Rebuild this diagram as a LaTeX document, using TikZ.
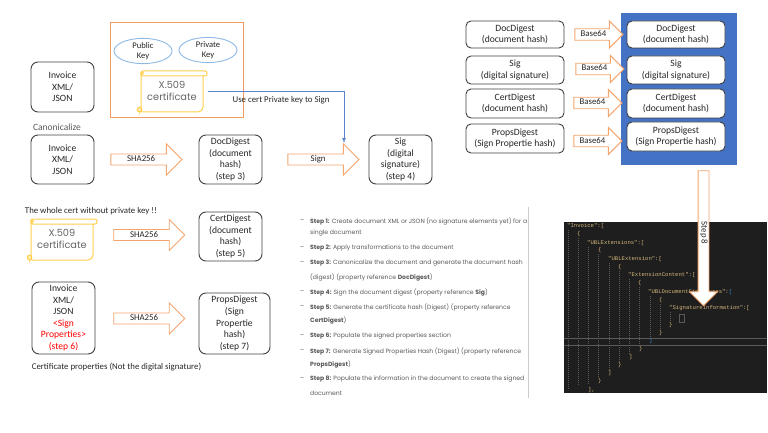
\documentclass[tikz,border=0pt]{standalone}
\usepackage{fontspec}
\setmainfont{Carlito}
\newfontfamily\stepfont{Poppins}
\newfontfamily\codefont{Liberation Mono}
\usetikzlibrary{positioning}
\usetikzlibrary{shapes.arrows}
\usetikzlibrary{shapes.geometric}
\definecolor{arrowline}{HTML}{F4A56E}
\definecolor{frameline}{HTML}{F29A5F}
\definecolor{keyline}{HTML}{8DB9E2}
\definecolor{wireblue}{HTML}{5B84D0}
\definecolor{scrollline}{HTML}{FFCF4A}
\definecolor{panelblue}{HTML}{4472C4}
\definecolor{codeback}{HTML}{1E1E1E}
\definecolor{codetext}{HTML}{D2B57C}
\definecolor{codeblue}{HTML}{3D8BD8}
\definecolor{guide}{HTML}{5A5A5A}

% one scroll, named #1, left edge of the drawing at #2
\newcommand{\certscroll}[2]{
    \draw[shift={(#2)},scrollline,line width=1pt,rounded corners=2pt,fill=white]
        (4,3) -- (4,39) -- (3,41) -- (63,41) -- (66,38) -- (66,5);
    \draw[shift={(#2)},scrollline,line width=1pt,rounded corners=2pt,fill=white]
        (4,0) rectangle (70,5);
    \draw[shift={(#2)},scrollline,line width=1pt,fill=scrollline!40] (2.5,38.5) circle (2.3);
    \draw[shift={(#2)},scrollline,line width=1pt,fill=scrollline!40] (5,2) circle (1.5);
    \node[certtext,shift={(#2)}] (#1) at (35,20) {X.509\\certificate};
}

\begin{document}
\begin{tikzpicture}[x=1pt,y=-1pt,
    box/.style={draw=black!75,line width=0.9pt,rounded corners=7pt,align=center,inner sep=0pt,
        font=\fontsize{9.6}{11.6}\selectfont,text=black!85},
    flatbox/.style={box,minimum width=98pt,rounded corners=5pt,fill=white},
    blockarrow/.style={single arrow,draw=arrowline,line width=0.9pt,fill=white,inner sep=0pt,
        single arrow tip angle=90,single arrow head extend=8pt,shape border uses incircle=false,
        minimum height=71pt,minimum width=31pt,font=\fontsize{8.8}{10}\selectfont,text=black!85,
        text height=6pt,text depth=2pt,execute at end node={\hspace*{5pt}}},
    basearrow/.style={blockarrow,minimum height=48pt,minimum width=27pt,single arrow head extend=6pt},
    keyoval/.style={ellipse,draw=keyline,line width=0.9pt,minimum width=58pt,minimum height=25pt,
        inner sep=0pt,align=center,font=\fontsize{8.6}{10.5}\selectfont,text=black!85},
    certtext/.style={align=center,inner sep=0pt,minimum width=72pt,
        font=\stepfont\fontsize{9.8}{12}\selectfont,text=black!60},
    note/.style={inner sep=0pt,font=\fontsize{8.8}{10}\selectfont,text=black!85},
    steptext/.style={anchor=west,inner sep=0pt,font=\stepfont\fontsize{6.1}{7}\selectfont,text=black!65},
    codeline/.style={anchor=west,inner sep=0pt,font=\codefont\fontsize{5.6}{7}\selectfont,text=codetext}]
    \useasboundingbox (0,0) rectangle (768,433);

    % certificate and keys
    \draw[frameline,line width=1pt] (110,23) rectangle (243,118);
    \node[keyoval] (pubkey) at (143,51) {Public\\Key};
    \node[keyoval] (privkey) at (208,50) {Private\\Key};
    \certscroll{cert1}{137,71}

    % left column
    \node[box,minimum width=63pt,minimum height=50pt] (invoice1) at (62.5,87) {Invoice\\XML/\\JSON};
    \node[note,text=black!65,font=\fontsize{9.5}{10}\selectfont] (canon) at (57,127) {Canonicalize};
    \node[box,minimum width=63pt,minimum height=49pt] (invoice2) at (62.5,159.5) {Invoice\\XML/\\JSON};
    \node[blockarrow,right=16pt of invoice2] (sha1) {SHA256};
    \node[box,minimum width=63pt,minimum height=49pt,right=16pt of sha1] (docdigest) {DocDigest\\(document\\hash)\\(step 3)};
    \node[blockarrow,right=25pt of docdigest] (signarrow) {Sign};
    \node[box,minimum width=63pt,minimum height=49pt,right=9pt of signarrow] (sig) {Sig\\(digital\\signature)\\(step 4)};
    \coordinate (signtop) at (344,143);
    \draw[wireblue,line width=0.7pt,-latex] (cert1.east) -| (signtop);
    \node[note] (usecert) at (281,100) {Use cert Private key to Sign};

    \node[note] (wholecert) at (91,211) {The whole cert without private key !!};
    \certscroll{cert2}{27,219}
    \node[blockarrow] (sha2) at (146.5,235) {SHA256};
    \node[box,minimum width=63pt,minimum height=49pt] (certdigest) at (230.5,236.5) {CertDigest\\(document\\hash)\\(step 5)};

    \node[box,minimum width=63pt,minimum height=72pt] (invoice3) at (63.5,318) {Invoice\\XML/\\JSON\\\textcolor{red}{<Sign}\\\textcolor{red}{Properties>}\\\textcolor{red}{(step 6)}};
    \node[blockarrow] (sha3) at (146.5,318.5) {SHA256};
    \node[box,minimum width=71pt,minimum height=61pt] (propsdigest) at (234.5,323.5) {PropsDigest\\(Sign\\Propertie\\hash)\\(step 7)};
    \node[note] (certprops) at (116.5,367) {Certificate properties (Not the digital signature)};

    % step list
    \foreach [count=\i] \yy/\txt in {
        221/{\textbf{Step 1:} Create document XML or JSON (no signature elements yet) for a},
        233/{single document},
        248/{\textbf{Step 2:} Apply transformations to the document},
        263/{\textbf{Step 3:} Canonicalize the document and generate the document hash},
        277/{(digest) (property reference \textbf{DocDigest})},
        292/{\textbf{Step 4:} Sign the document digest (property reference \textbf{Sig})},
        307/{\textbf{Step 5:} Generate the certificate hash (Digest) (property reference},
        320/{\textbf{CertDigest})},
        336/{\textbf{Step 6:} Populate the signed properties section},
        351/{\textbf{Step 7:} Generate Signed Properties Hash (Digest) (property reference},
        364/{\textbf{PropsDigest})},
        379/{\textbf{Step 8:} Populate the information in the document to create the signed},
        393/{document}}
        \node[steptext] (stepline\i) at (310,\yy) {\txt};
    \foreach [count=\i] \yy in {221,248,263,292,307,336,351,379}
        \node[steptext] (stepdash\i) at (300,\yy) {–};
    \draw[black!20,line width=1pt] (528,207) -- (528,398);

    % right side, digests
    \node[flatbox,minimum height=27pt] (doc1) at (515,34.5) {DocDigest\\(document hash)};
    \node[flatbox,minimum height=28pt] (sig1) at (515,70) {Sig\\(digital signature)};
    \node[flatbox,minimum height=29pt] (cert1b) at (515,103.5) {CertDigest\\(document hash)};
    \node[flatbox,minimum height=29pt] (props1) at (515,138.5) {PropsDigest\\(Sign Propertie hash)};
    \fill[panelblue] (621,13) rectangle (737,165);
    \node[flatbox,minimum height=27pt] (doc2) at (676,34.5) {DocDigest\\(document hash)};
    \node[flatbox,minimum height=28pt] (sig2) at (676,70) {Sig\\(digital signature)};
    \node[flatbox,minimum height=29pt] (cert2b) at (676,103.5) {CertDigest\\(document hash)};
    \node[flatbox,minimum height=29pt] (props2) at (676,136.5) {PropsDigest\\(Sign Propertie hash)};
    \node[basearrow] (base1) at (596,34.5) {Base64};
    \node[basearrow] (base2) at (597,69) {Base64};
    \node[basearrow] (base3) at (595,103) {Base64};
    \node[basearrow] (base4) at (595,141) {Base64};

    % code panel
    \fill[codeback] (564,222) rectangle (767,393);
    \foreach \xx/\ya/\yb in {568/230/390,578/238/385,588/247/385,598/254/378,609/263/370,619/271/362,629/279/354,639/287/346,650/296/338,660/304/330,670/312/322}
        \draw[guide,line width=0.3pt,dash pattern=on 1pt off 1pt] (\xx,\ya) -- (\xx,\yb);
    \draw[guide,line width=0.6pt] (564,338) -- (767,338);
    \draw[guide,line width=0.6pt] (564,345) -- (767,345);
    \foreach [count=\i] \xx/\yy/\txt in {
        567/226/{"Invoice":[},
        577/234/{\{},
        587/243/{"UBLExtensions":[},
        598/250/{\{},
        608/259/{"UBLExtension":[},
        618/267/{\{},
        628/275/{"ExtensionContent":[},
        638/283/{\{},
        648/292/{"UBLDocumentSignatures":\textcolor{codeblue}{[}},
        659/300/{\{},
        669/308/{"SignatureInformation":[},
        669/325/{\}},
        659/333/{\}},
        649/341/{\textcolor{codeblue}{]}},
        639/349/{\}},
        629/357/{]},
        618/365/{\}},
        608/373/{]},
        598/381/{\}},
        588/390/{],}}
        \node[codeline] (code\i) at (\xx,\yy) {\txt};
    \draw[guide,line width=0.4pt] (679,314) rectangle (684,322);

    % step 8 arrow over the code
    \node[blockarrow,rotate=-90,minimum height=135pt,minimum width=28pt,single arrow head extend=7pt] (step8) at (703.5,235.5) {Step 8};
\end{tikzpicture}
\end{document}
